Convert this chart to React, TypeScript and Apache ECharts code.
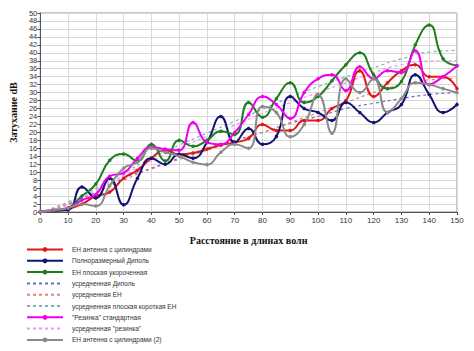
import React, { useEffect, useRef } from "react";
import * as echarts from "echarts";

const xs = [0, 5, 10, 15, 20, 25, 30, 35, 40, 45, 50, 55, 60, 65, 70, 75, 80, 85, 90, 95, 100, 105, 110, 115, 120, 125, 130, 135, 140, 145, 150];
const redEH = [0, 0.3, 0.8, 2, 4, 5, 8.5, 10.5, 13.5, 15.5, 14.5, 14.8, 15.8, 16.8, 17.5, 18.5, 22, 20.5, 20.5, 23, 23, 26, 28, 35.5, 29, 32.5, 35.5, 37, 34, 34, 31];
const blueDipole = [0, 0.3, 0.5, 6.3, 3.5, 8.5, 1.8, 8.5, 13.5, 12, 14.5, 13.5, 17.5, 24, 17.5, 21, 17, 19, 29, 26, 25, 23, 27.5, 25, 22.5, 25, 27, 34.5, 29.5, 25, 27];
const greenFlat = [0, 0.3, 1, 4, 7, 13, 14.6, 12.8, 17, 12.8, 18, 16.5, 18, 20.3, 19.5, 27.5, 23.8, 28.5, 32.5, 27.5, 29, 33, 37, 40, 34.5, 31, 32.8, 42, 47, 38.5, 36.8];
const magentaStd = [0, 0.5, 1, 3, 4.4, 9, 9.8, 13.5, 16.3, 15.8, 15.5, 22.5, 17.5, 17, 20, 24.5, 29, 27, 23.5, 30, 33.5, 34.5, 30.5, 36.5, 33.5, 35.5, 35, 40.5, 32, 34, 36.7];
const grayEH2 = [0, 0.5, 1, 2, 1.5, 6.6, 11, 12.5, 16, 15, 14, 12.5, 11.9, 15, 17, 16, 26.5, 25, 18.9, 22, 29.5, 19.8, 33.5, 30, 33.5, 25, 28.5, 32.5, 32, 31, 30];

const trendXs = [0, 10, 20, 30, 40, 50, 60, 70, 80, 90, 100, 110, 120, 130, 140, 150];
const avgDipole = [0, 2, 5, 8.5, 11, 13.5, 16, 18, 20, 22.3, 24, 26, 27.3, 28.5, 29.5, 30];
const avgEH = [0, 1.8, 4.8, 8, 10.8, 13.2, 15.5, 17.8, 20, 22.5, 25, 27.5, 30, 32, 33.2, 33.6];
const avgFlat = [0, 2.5, 6, 9.8, 13.5, 16.8, 19.8, 22.8, 25.8, 28.8, 31.5, 34, 36.3, 38.5, 40.2, 40.6];
const avgRubber = [0, 2.2, 5.5, 9.2, 12.8, 16, 19, 21.8, 24.8, 27.5, 30, 32.5, 35, 37, 37.9, 38];

const names = [
  "ЕН антенна с цилиндрами",
  "Полноразмерный Диполь",
  "ЕН плоская укороченная",
  "усредненная Диполь",
  "усредненная ЕН",
  "усредненная плоская короткая ЕН",
  "\"Резинка\" стандартная",
  "усредненная \"резинка\"",
  "ЕН антенна с цилиндрами (2)",
];
const dashedNames = [names[3], names[4], names[5], names[7]];

const pair = (x: number[], y: number[]) => x.map((v, i) => [v, y[i]]);

export default function App() {
  const ref = useRef<HTMLDivElement>(null);
  useEffect(() => {
    if (!ref.current) return;
    const chart = echarts.init(ref.current, undefined, { renderer: "svg" });
    const solid = (name: string, color: string, data: number[]) => ({
      name,
      type: "line",
      data: pair(xs, data),
      smooth: 0.5,
      symbol: "circle",
      symbolSize: 3.5,
      showSymbol: true,
      lineStyle: { color, width: 2 },
      itemStyle: { color },
      z: 3,
    });
    const dashed = (name: string, color: string, data: number[]) => ({
      name,
      type: "line",
      data: pair(trendXs, data),
      smooth: 0.6,
      symbol: "none",
      lineStyle: { color, width: 1.2, type: [3, 3] },
      itemStyle: { color },
      z: 2,
    });
    chart.setOption({
      animation: false,
      backgroundColor: "#ffffff",
      grid: { left: 36, right: 17, top: 13, bottom: 139, containLabel: false, show: true, borderColor: "#8c8c8c", borderWidth: 1 },
      xAxis: {
        type: "value",
        min: 0,
        max: 150,
        interval: 10,
        name: "Расстояние в длинах волн",
        nameLocation: "middle",
        nameGap: 23,
        nameTextStyle: { fontFamily: "Liberation Serif", fontWeight: "bold", fontSize: 10, color: "#111" },
        axisLine: { lineStyle: { color: "#555" } },
        axisTick: { show: true, length: 3, lineStyle: { color: "#555" } },
        axisLabel: { fontSize: 8, color: "#333", fontFamily: "Liberation Sans", margin: 4 },
        splitLine: { show: true, lineStyle: { color: "#d8d8d8", width: 1 } },
      },
      yAxis: {
        type: "value",
        min: 0,
        max: 50,
        interval: 2,
        name: "Затухание dB",
        nameLocation: "middle",
        nameGap: 21,
        nameRotate: 90,
        nameTextStyle: { fontFamily: "Liberation Serif", fontWeight: "bold", fontSize: 10, color: "#111" },
        axisLine: { show: true, lineStyle: { color: "#555" } },
        axisTick: { show: true, length: 3, lineStyle: { color: "#555" } },
        axisLabel: { fontSize: 7.5, color: "#333", fontFamily: "Liberation Sans", margin: 3 },
        splitLine: { show: true, lineStyle: { color: "#d8d8d8", width: 1 } },
      },
      legend: {
        orient: "vertical",
        left: 26,
        top: 246,
        itemWidth: 36,
        itemHeight: 6,
        itemGap: 4.3,
        padding: 0,
        textStyle: { fontSize: 6.5, color: "#333", fontFamily: "Liberation Sans", padding: [0, 0, 0, 4] },
        data: names.map((n) =>
          dashedNames.includes(n) ? { name: n, itemStyle: { opacity: 0 } } : { name: n }
        ),
      },
      series: [
        solid(names[0], "#e01818", redEH),
        solid(names[1], "#141470", blueDipole),
        solid(names[2], "#1e7d1e", greenFlat),
        dashed(names[3], "#6a6ad0", avgDipole),
        dashed(names[4], "#e88080", avgEH),
        dashed(names[5], "#7fb3b3", avgFlat),
        solid(names[6], "#f000f0", magentaStd),
        dashed(names[7], "#f090f0", avgRubber),
        solid(names[8], "#8a8a8a", grayEH2),
      ],
    });
    return () => chart.dispose();
  }, []);
  return <div ref={ref} style={{ width: 474, height: 351, position: "absolute", left: 0, top: 0 }} />;
}
